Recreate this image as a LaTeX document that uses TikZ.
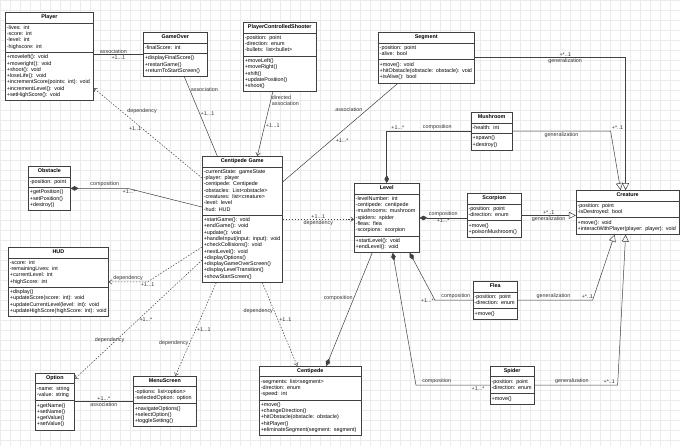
\documentclass[tikz,border=0pt]{standalone}
\usepackage{fontspec}
\setmainfont{Liberation Sans}
\usetikzlibrary{arrows.meta,shapes.multipart}

\newcommand{\classparts}[3]{\strut\hskip0pt plus1filll\textbf{#1}\hskip0pt plus1filll\strut\nodepart{second}\strut#2\strut\nodepart{third}\strut#3\strut}

\begin{document}
\begin{tikzpicture}[
    x=1pt, y=-1pt,
    every node/.style={font=\fontsize{5.4}{6.3}\selectfont},
    umlclass/.style={draw=black!75, fill=white, line width=0.5pt, rectangle split, rectangle split parts=3, align=left, anchor=north west, inner xsep=1.5pt, inner ysep=1.85pt},
    lbl/.style={inner sep=1pt, text=black!80},
    assoc/.style={draw=black!75, line width=0.5pt},
    directed/.style={assoc, -{Straight Barb[length=3pt, width=4.5pt]}},
    depend/.style={assoc, dash pattern=on 1.5pt off 1.5pt, -{Straight Barb[length=3pt, width=4.5pt]}},
    compos/.style={assoc, {Diamond[length=8pt, width=4.5pt]}-},
    inherit/.style={assoc, -{Triangle[open, length=7pt, width=7pt]}}
]
\fill[white] (0,0) rectangle (680,446);
\draw[black!8, line width=0.3pt, step=10pt] (0,446) grid (680,0);
\useasboundingbox (0,0) rectangle (680,446);

\node[umlclass, text width=85pt] (player) at (5,12) {\classparts{Player}{-lives: int\\-score: int\\-level: int\\-highscore: int}{+moveleft(): void\\+moveright(): void\\+shoot(): void\\+loseLife(): void\\+incrementScore(points: int): void\\+incrementLevel(): void\\+setHighScore(): void}};
\node[umlclass, text width=61pt] (gameover) at (143,32) {\classparts{GameOver}{-finalScore: int}{+displayFinalScore()\\+restartGame()\\+returnToStartScreen()}};
\node[umlclass, text width=70pt] (shooter) at (243,22) {\classparts{PlayerControlledShooter}{-position: point\\-direction: enum\\-bullets: list<bullet>}{+moveLeft()\\+moveRight()\\+shift()\\+updatePosition()\\+shoot()}};
\node[umlclass, text width=93pt] (segment) at (378,32) {\classparts{Segment}{-position: point\\-alive: bool}{+move(): void\\+hitObstacle(obstacle: obstacle): void\\+isAlive(): bool}};
\node[umlclass, text width=38pt] (mushroom) at (471,112) {\classparts{Mushroom}{-health: int}{+spawn()\\+destroy()}};
\node[umlclass, text width=100pt] (creature) at (576,190) {\classparts{Creature}{-position: point\\-isDestroyed: bool}{+move(): void\\+interactWithPlayer(player: player): void}};
\node[umlclass, text width=51pt] (scorpion) at (467,193) {\classparts{Scorpion}{-position: point\\-direction: enum}{+move()\\+poisonMushroom()}};
\node[umlclass, text width=62pt] (level) at (354,183) {\classparts{Level}{-levelNumber: int\\-centipede: centipede\\-mushrooms: mushroom\\-spiders: spider\\-fleas: flea\\-scorpions: scorpion}{+startLevel(): void\\+endLevel(): void}};
\node[umlclass, text width=77pt] (game) at (202,156) {\classparts{Centipede Game}{-currentState: gameState\\-player: player\\-centipede: Centipede\\-obstacles: List<obstacle>\\-creatures: list<creature>\\-level: level\\-hud: HUD}{+startGame(): void\\+endGame(): void\\+update(): void\\+handleInput(input: input): void\\+checkCollisions(): void\\+nextLevel(): void\\+displayOptions()\\+displayGameOverScreen()\\+displayLevelTransition()\\+showStartScreen()}};
\node[umlclass, text width=39pt] (obstacle) at (28,166) {\classparts{Obstacle}{-position: point}{+getPosition()\\+setPosition()\\+destroy()}};
\node[umlclass, text width=97pt] (hud) at (8,247) {\classparts{HUD}{-score: int\\-remainingLives: int\\+currentLevel: int\\+highScore: int}{+display()\\+updateScore(score: int): void\\+updateCurrentLevel(level: int): void\\+updateHighScore(highScore: int): void}};
\node[umlclass, text width=41pt] (flea) at (473,281) {\classparts{Flea}{-position: point\\-direction: enum}{+move()}};
\node[umlclass, text width=41pt] (spider) at (490,366) {\classparts{Spider}{-position: point\\-direction: enum}{+move()}};
\node[umlclass, text width=99pt] (centipede) at (259,366) {\classparts{Centipede}{-segments: list<segment>\\-direction: enum\\-speed: int}{+move()\\+changeDirection()\\+hitObstacle(obstacle: obstacle)\\+hitPlayer()\\+eliminateSegment(segment: segment)}};
\node[umlclass, text width=36pt] (option) at (35,373) {\classparts{Option}{-name: string\\-value: string}{+getName()\\+setName()\\+getValue()\\+setValue()}};
\node[umlclass, text width=60pt] (menu) at (133,376) {\classparts{MenuScreen}{-options: list<option>\\-selectedOption: option}{+navigateOptions()\\+selectOption()\\+toggleSetting()}};

\draw[assoc] (player.east |- gameover.west) -- node[lbl, above, pos=0.4] {association} node[lbl, below, pos=0.5] {+1...1} (gameover.west);
\draw[assoc] ([xshift=9pt]gameover.south) -- node[lbl, right, pos=0.16] {association} node[lbl, right, pos=0.46] {+1...1} ([xshift=-25pt]game.north);
\draw[directed] ([xshift=-7pt]shooter.south) -- node[lbl, right, pos=0.14, align=left] {directed\\association} node[lbl, right, pos=0.52] {+1...1} ([xshift=15pt]game.north);
\draw[assoc] ([xshift=-28pt]segment.south) -- node[lbl, above left, pos=0.3] {association} node[lbl, below right, pos=0.55] {+1...*} ([yshift=-26pt]game.north east);
\draw[depend] ([yshift=-22pt]game.north west) -- node[lbl, above right, pos=0.7] {dependency} node[lbl, left, pos=0.55] {+1..1} ([yshift=-76pt]player.north east);
\draw[compos] (obstacle.east) -- node[lbl, above, pos=0.6] {composition} ++(57,0) -- node[lbl, below, pos=0.02] {+1...*} ([yshift=-51pt]game.north west);
\draw[depend] ([yshift=-91pt]game.north west) -- ([xshift=39pt]hud.east) -- node[lbl, above] {dependency} node[lbl, below, pos=0] {+1...1} (hud.east);
\draw[depend] ([yshift=-104pt]game.north west) -- node[lbl, right, pos=0.5] {+1...*} node[lbl, pos=0.67, xshift=-7pt] {dependency} ([yshift=-6pt]option.north east);
\draw[depend] ([xshift=-26pt]game.south) -- node[lbl, right, pos=0.5] {+1...1} node[lbl, left, pos=0.65] {dependency} ([xshift=10.5pt]menu.north);
\draw[depend] ([xshift=20pt]game.south) -- node[lbl, left, pos=0.34] {dependency} node[lbl, right, pos=0.45] {+1..1} ([xshift=-13pt]centipede.north);
\draw[depend] (game.east) -- node[lbl, above] {+1...1} node[lbl, below] {dependency} (game.east -| level.west);
\draw[compos] (level.north) |- node[lbl, above right, pos=0.52] {+1...*} node[lbl, above, pos=0.8] {composition} (mushroom.west);
\draw[compos] (level.east) -- node[lbl, above] {composition} node[lbl, below] {+1...*} (level.east -| scorpion.west);
\draw[compos] ([xshift=23pt]level.south) -- ([xshift=-38pt]flea.west) -- node[lbl, left, pos=0] {+1...*} node[lbl, above, pos=0.55] {composition} (flea.west);
\draw[compos] ([xshift=6pt]level.south) -- ([xshift=-74pt]spider.west) -- node[lbl, above, pos=0.28] {composition} node[lbl, below, pos=0.84] {+1...*} (spider.west);
\draw[compos] ([xshift=16pt]centipede.north) -- node[lbl, left, pos=0.6] {composition} ([xshift=-14.5pt]level.south);
\draw[inherit] (segment.east) -| node[lbl, above, pos=0.3] {+*..1} node[lbl, below, pos=0.3] {generalization} ([xshift=-2pt]creature.north);
\draw[inherit] (mushroom.east) -- node[lbl, below, pos=0.5] {generalization} node[lbl, above right, pos=1] {+*..1} ([xshift=-17pt]creature.north |- mushroom.east) -- ([xshift=-7pt]creature.north);
\draw[inherit] (scorpion.east) -- node[lbl, above] {+*..1} node[lbl, below] {generalization} (scorpion.east -| creature.west);
\draw[inherit] (flea.east) -- node[lbl, above, pos=0.48] {generalization} node[lbl, above, pos=0.93] {+*..1} ([xshift=-35pt]creature.south |- flea.east) -- ([xshift=-13pt]creature.south);
\draw[inherit] (spider.east) -- node[lbl, above, pos=0.45] {generalization} node[lbl, above, pos=0.9] {+*..1} ([xshift=-10pt]creature.south |- spider.east) -- ([xshift=-2pt]creature.south);
\draw[assoc] (option.east) -- node[lbl, above] {+1...*} node[lbl, below] {association} (option.east -| menu.west);
\end{tikzpicture}
\end{document}
